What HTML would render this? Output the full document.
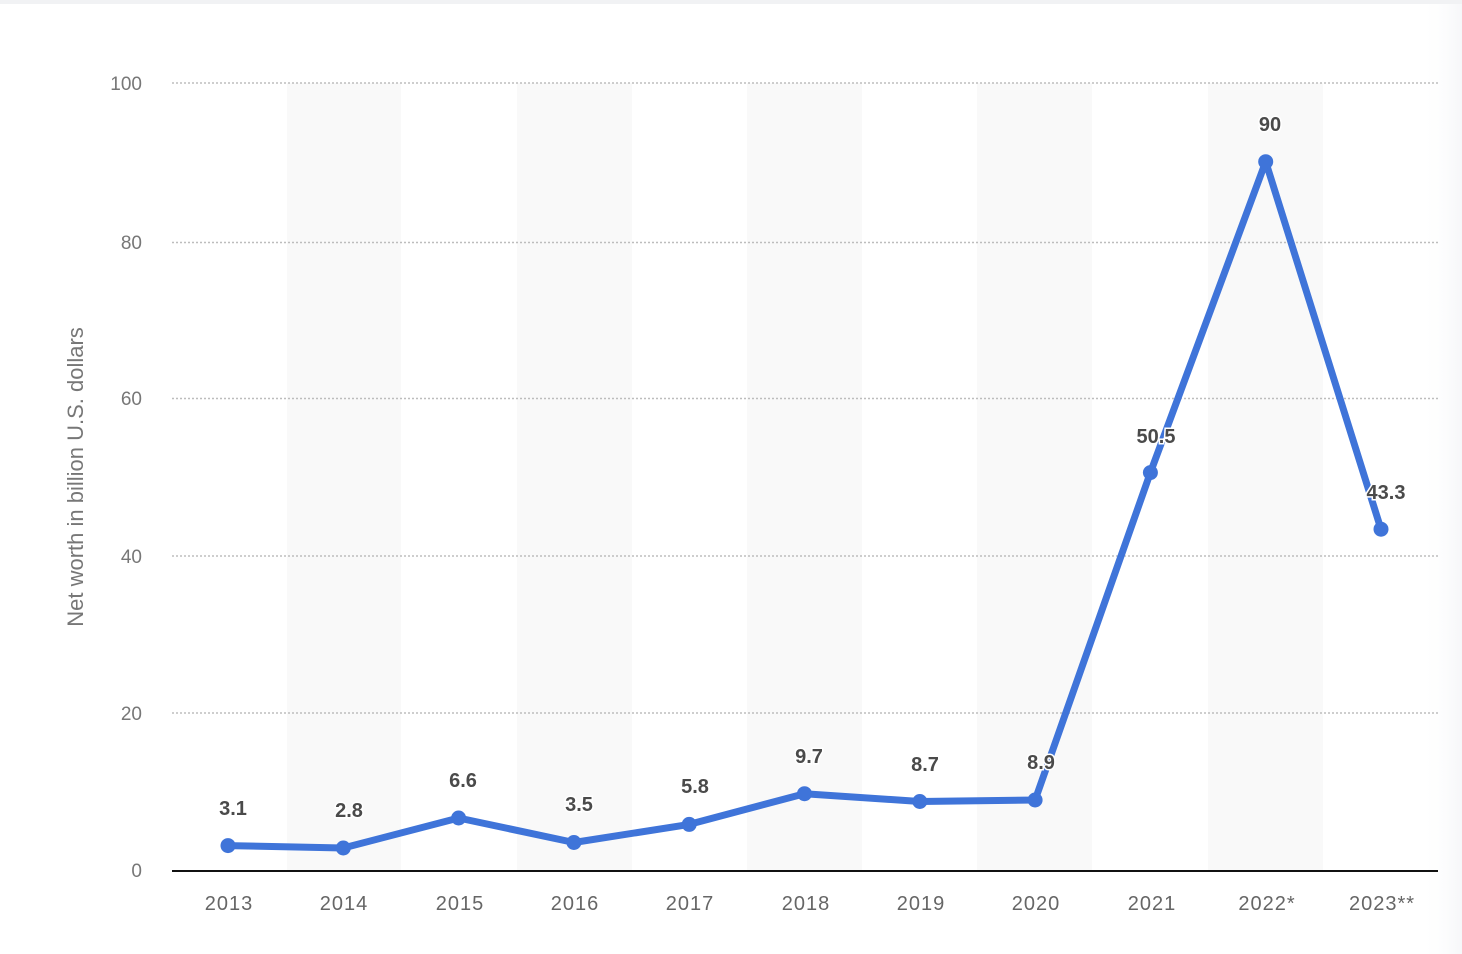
<!DOCTYPE html>
<html><head><meta charset="utf-8"><style>
html,body{margin:0;padding:0;background:#fff;}
svg{display:block;font-family:"Liberation Sans",sans-serif;}
</style></head><body>
<svg width="1462" height="954" viewBox="0 0 1462 954">
<rect x="0" y="0" width="1462" height="4" fill="#f1f2f4"/>
<defs><linearGradient id="sh" x1="0" x2="1"><stop offset="0" stop-color="#fff" stop-opacity="0"/><stop offset="1" stop-color="#f6f7f9"/></linearGradient></defs>
<rect x="1420" y="4" width="42" height="950" fill="url(#sh)"/>
<g fill="#f9f9f9">
<rect x="287" y="83" width="114" height="787"/>
<rect x="517" y="83" width="115" height="787"/>
<rect x="747" y="83" width="115" height="787"/>
<rect x="977" y="83" width="115" height="787"/>
<rect x="1208" y="83" width="115" height="787"/>
</g>
<g stroke="#bdbdbd" stroke-width="1.5" stroke-dasharray="2,2">
<line x1="172" x2="1438" y1="83" y2="83"/>
<line x1="172" x2="1438" y1="242.5" y2="242.5"/>
<line x1="172" x2="1438" y1="398.5" y2="398.5"/>
<line x1="172" x2="1438" y1="556" y2="556"/>
<line x1="172" x2="1438" y1="713" y2="713"/>
</g>
<line x1="172" x2="1438" y1="871" y2="871" stroke="#111" stroke-width="2"/>
<g fill="#777" font-size="19" text-anchor="end">
<text x="142" y="90">100</text><text x="142" y="249">80</text><text x="142" y="405">60</text>
<text x="142" y="563">40</text><text x="142" y="720">20</text><text x="142" y="877">0</text>
</g>
<text transform="translate(83,477) rotate(-90)" text-anchor="middle" font-size="22" fill="#777">Net worth in billion U.S. dollars</text>
<g fill="#666" font-size="20" text-anchor="middle" letter-spacing="1">
<text x="229" y="910">2013</text><text x="344" y="910">2014</text><text x="460" y="910">2015</text>
<text x="575" y="910">2016</text><text x="690" y="910">2017</text><text x="806" y="910">2018</text>
<text x="921" y="910">2019</text><text x="1036" y="910">2020</text><text x="1152" y="910">2021</text>
<text x="1267" y="910">2022*</text><text x="1382" y="910">2023**</text>
</g>
<polyline fill="none" stroke="#3f74d9" stroke-width="7" stroke-linejoin="round" points="228,845.6 343.3,848 458.6,818 573.9,842.5 689.2,824.4 804.5,793.7 919.8,801.5 1035.1,800 1150.4,472.6 1265.7,161.7 1381,529.2"/>
<g fill="#3f74d9">
<circle cx="228" cy="845.6" r="7.5"/><circle cx="343.3" cy="848" r="7.5"/><circle cx="458.6" cy="818" r="7.5"/>
<circle cx="573.9" cy="842.5" r="7.5"/><circle cx="689.2" cy="824.4" r="7.5"/><circle cx="804.5" cy="793.7" r="7.5"/>
<circle cx="919.8" cy="801.5" r="7.5"/><circle cx="1035.1" cy="800" r="7.5"/><circle cx="1150.4" cy="472.6" r="7.5"/>
<circle cx="1265.7" cy="161.7" r="7.5"/><circle cx="1381" cy="529.2" r="7.5"/>
</g>
<g fill="#4a4a4a" font-size="20" font-weight="bold" text-anchor="middle" stroke="#fff" stroke-width="3" paint-order="stroke">
<text x="233" y="815">3.1</text><text x="349" y="817">2.8</text><text x="463" y="787">6.6</text>
<text x="579" y="811">3.5</text><text x="695" y="793">5.8</text><text x="809" y="763">9.7</text>
<text x="925" y="771">8.7</text><text x="1041" y="769">8.9</text><text x="1156" y="443">50.5</text>
<text x="1270" y="131">90</text><text x="1386" y="499">43.3</text>
</g>
</svg>
</body></html>
